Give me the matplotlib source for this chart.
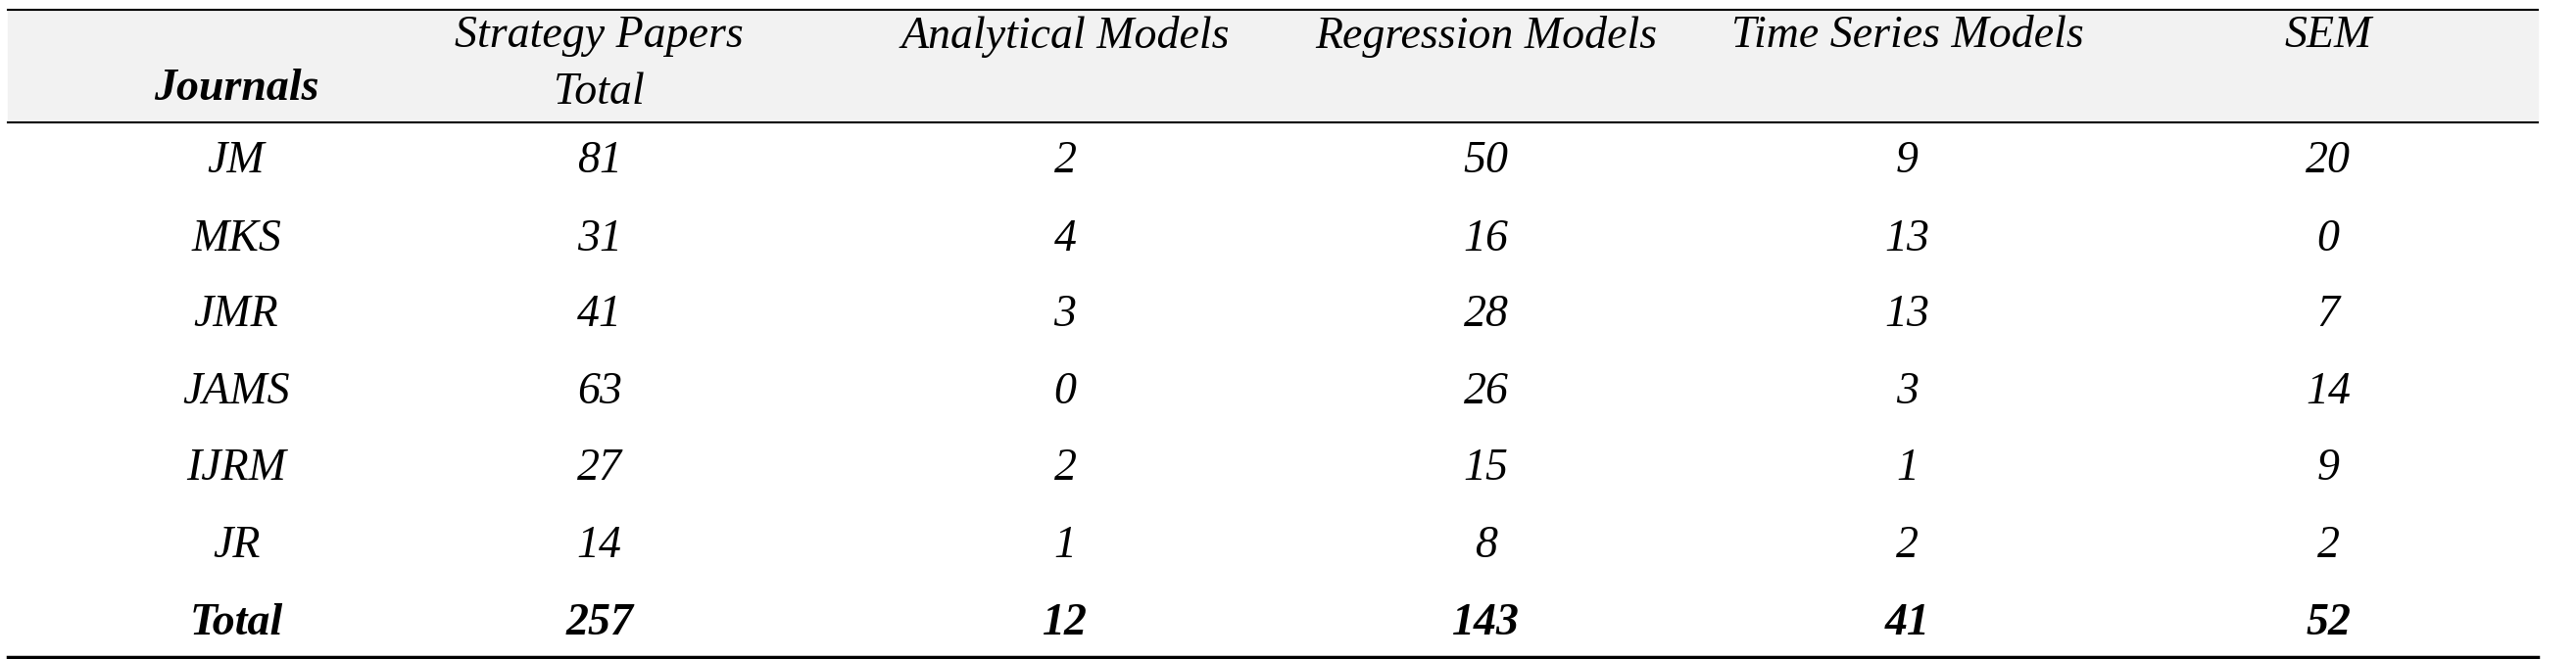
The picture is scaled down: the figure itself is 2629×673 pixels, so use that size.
import matplotlib
matplotlib.use("Agg")
import matplotlib.pyplot as plt
from matplotlib.patches import Rectangle

journals = ["JM", "MKS", "JMR", "JAMS", "IJRM", "JR"]
total_papers = [81, 31, 41, 63, 27, 14]
analytical = [2, 4, 3, 0, 2, 1]
regression = [50, 16, 28, 26, 15, 8]
time_series = [9, 13, 13, 3, 1, 2]
sem = [20, 0, 7, 14, 9, 2]
headers = ["Strategy Papers\nTotal", "Analytical Models", "Regression Models", "Time Series Models", "SEM"]

W, H = 1560, 399.4
fig = plt.figure(figsize=(26.29, 6.73), dpi=100)
ax = fig.add_axes([0, 0, 1, 1])
ax.set_xlim(0, W); ax.set_ylim(H, 0); ax.axis("off")
fs = 33
font = dict(family="Liberation Serif", style="italic", fontsize=fs)

ax.add_patch(Rectangle((5, 6), 1532, 68, color="#f2f2f2", zorder=0))
for y, lw in [(6, 1.5), (74, 1.5), (398.5, 2.5)]:
    ax.plot([5, 1537], [y, y], color="black", lw=lw)

colx = [143, 363, 645, 900, 1155, 1410]
ax.text(colx[0], 54, "Journals", ha="center", va="center", weight="bold", **font)
ax.text(colx[1], 22, "Strategy Papers", ha="center", va="center", **font)
ax.text(colx[1], 56, "Total", ha="center", va="center", **font)
for x, h in zip(colx[2:], headers[1:]):
    ax.text(x, 22, h, ha="center", va="center", **font)

rowy = [98, 145, 191, 238, 284, 331]
cols = [total_papers, analytical, regression, time_series, sem]
for i, j in enumerate(journals):
    ax.text(colx[0], rowy[i], j, ha="center", va="center", **font)
    for k, c in enumerate(cols):
        ax.text(colx[k + 1], rowy[i], str(c[i]), ha="center", va="center", **font)
ty = 378
ax.text(colx[0], ty, "Total", ha="center", va="center", weight="bold", **font)
for k, c in enumerate(cols):
    ax.text(colx[k + 1], ty, str(sum(c)), ha="center", va="center", weight="bold", **font)

fig.savefig("out.png", dpi=100)
